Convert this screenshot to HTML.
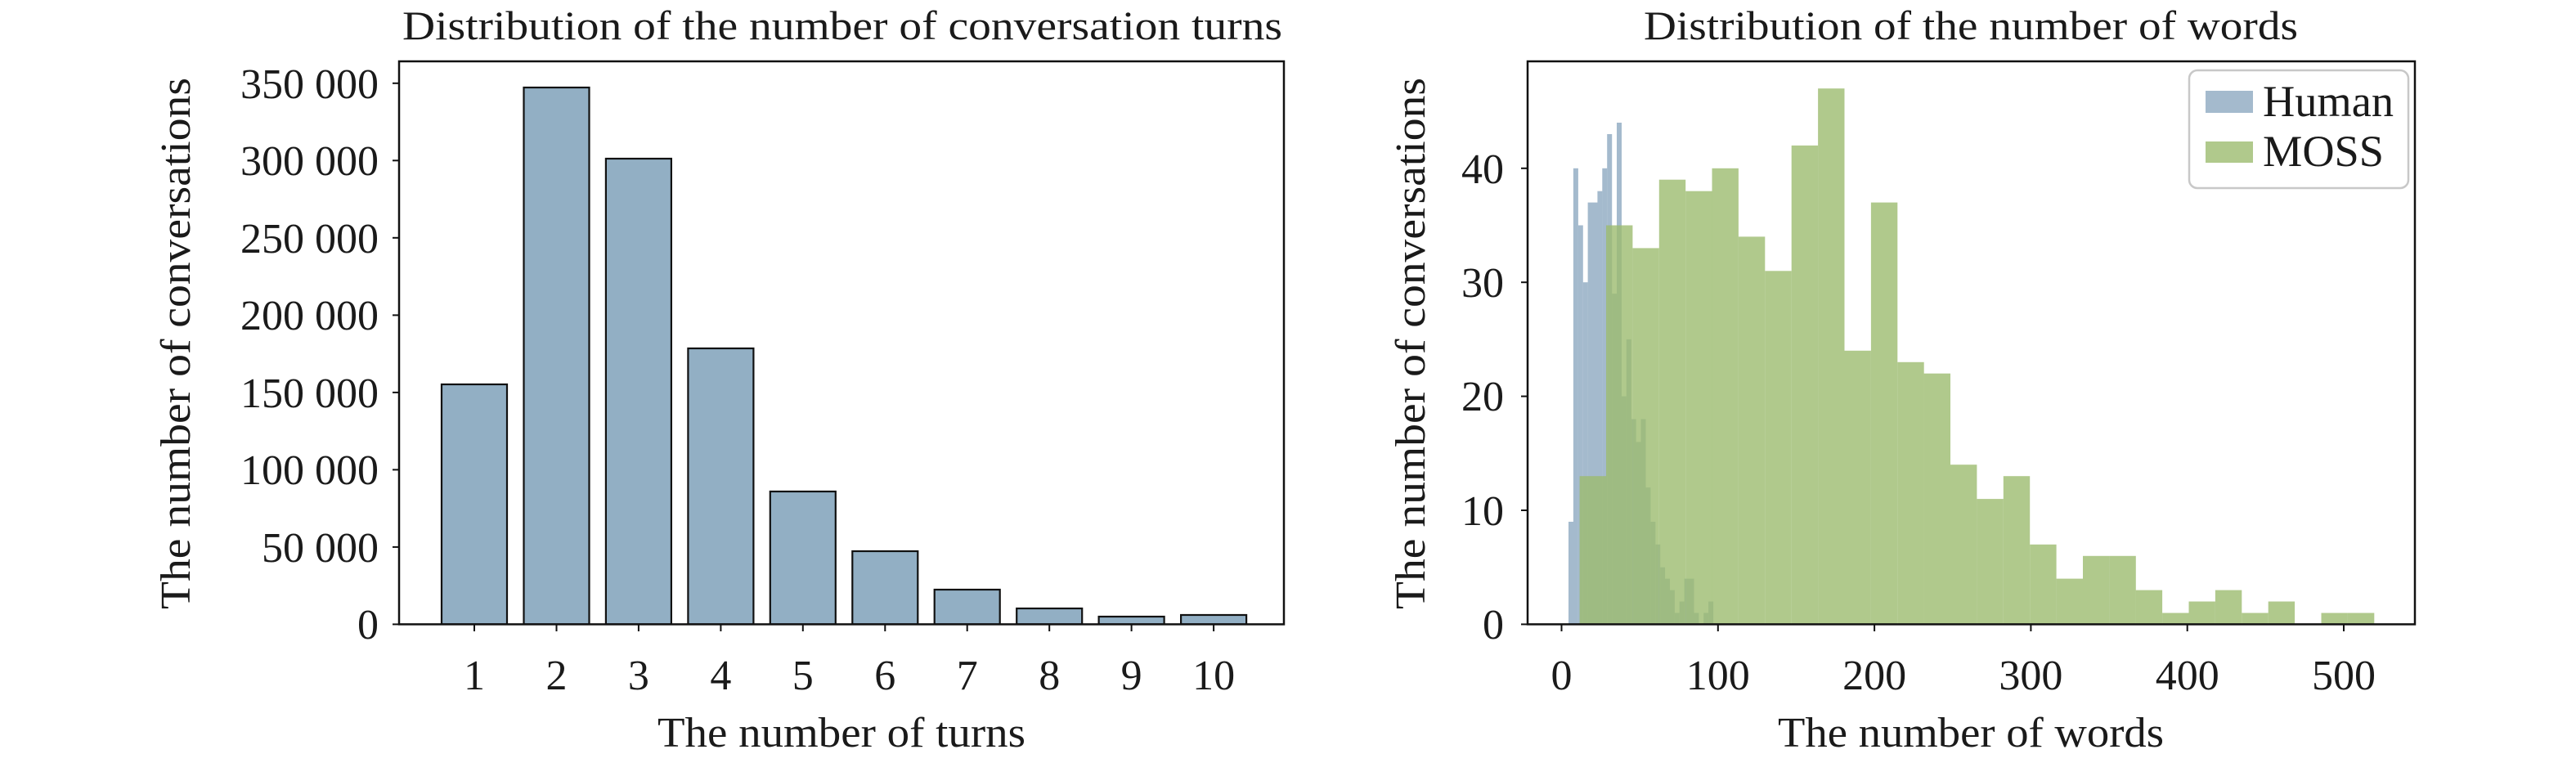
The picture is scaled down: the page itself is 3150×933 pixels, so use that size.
<!DOCTYPE html>
<html><head><meta charset="utf-8"><style>
html,body{margin:0;padding:0;background:#fff;}
svg{display:block;}
text{font-family:"Liberation Serif","Times New Roman",serif;fill:#1a1a1a;}
</style></head><body>
<svg width="3150" height="933" viewBox="0 0 3150 933" xmlns="http://www.w3.org/2000/svg">
<!-- LEFT PANEL -->
<text x="1030" y="48" font-size="50" text-anchor="middle" textLength="1076" lengthAdjust="spacingAndGlyphs">Distribution of  the number of conversation turns</text>
<g fill="#92afc4" stroke="#111" stroke-width="2.2">
<rect x="540" y="470" width="80" height="293.4"/>
<rect x="640.5" y="107" width="80" height="656.4"/>
<rect x="740.9" y="194" width="80" height="569.4"/>
<rect x="841.4" y="426" width="80" height="337.4"/>
<rect x="941.8" y="601" width="80" height="162.4"/>
<rect x="1042.3" y="674" width="80" height="89.4"/>
<rect x="1142.7" y="721" width="80" height="42.4"/>
<rect x="1243.2" y="744" width="80" height="19.4"/>
<rect x="1343.6" y="754" width="80" height="9.4"/>
<rect x="1444.1" y="752" width="80" height="11.4"/>
</g>
<rect x="488" y="75" width="1082" height="688.4" fill="none" stroke="#111" stroke-width="2.5"/>
<g stroke="#111" stroke-width="2">
<line x1="480" y1="763.4" x2="488" y2="763.4"/><line x1="480" y1="668.9" x2="488" y2="668.9"/>
<line x1="480" y1="574.4" x2="488" y2="574.4"/><line x1="480" y1="479.9" x2="488" y2="479.9"/>
<line x1="480" y1="385.4" x2="488" y2="385.4"/><line x1="480" y1="290.8" x2="488" y2="290.8"/>
<line x1="480" y1="196.3" x2="488" y2="196.3"/><line x1="480" y1="101.8" x2="488" y2="101.8"/>
<line x1="580" y1="763" x2="580" y2="772"/><line x1="680.5" y1="763" x2="680.5" y2="772"/>
<line x1="780.9" y1="763" x2="780.9" y2="772"/><line x1="881.4" y1="763" x2="881.4" y2="772"/>
<line x1="981.8" y1="763" x2="981.8" y2="772"/><line x1="1082.3" y1="763" x2="1082.3" y2="772"/>
<line x1="1182.7" y1="763" x2="1182.7" y2="772"/><line x1="1283.2" y1="763" x2="1283.2" y2="772"/>
<line x1="1383.6" y1="763" x2="1383.6" y2="772"/><line x1="1484.1" y1="763" x2="1484.1" y2="772"/>
</g>
<g font-size="52" text-anchor="end">
<text x="463" y="781">0</text><text x="463" y="687">50 000</text><text x="463" y="592">100 000</text>
<text x="463" y="498">150 000</text><text x="463" y="403">200 000</text><text x="463" y="309">250 000</text>
<text x="463" y="214">300 000</text><text x="463" y="120">350 000</text>
</g>
<g font-size="52" text-anchor="middle">
<text x="580" y="843">1</text><text x="680.5" y="843">2</text><text x="780.9" y="843">3</text>
<text x="881.4" y="843">4</text><text x="981.8" y="843">5</text><text x="1082.3" y="843">6</text>
<text x="1182.7" y="843">7</text><text x="1283.2" y="843">8</text><text x="1383.6" y="843">9</text>
<text x="1484.1" y="843">10</text>
</g>
<text x="1029" y="913" font-size="52" text-anchor="middle" textLength="450" lengthAdjust="spacingAndGlyphs">The number of turns</text>
<text transform="translate(232,420) rotate(-90)" font-size="52" text-anchor="middle" textLength="650" lengthAdjust="spacingAndGlyphs">The number of conversations</text>

<!-- RIGHT PANEL -->
<text x="2410" y="48" font-size="50" text-anchor="middle" textLength="800" lengthAdjust="spacingAndGlyphs">Distribution of the number of words</text>
<g fill="#a4bacd">
<rect x="1918" y="638" width="6" height="125.4"/>
<rect x="1923.9" y="205.8" width="6" height="557.6"/>
<rect x="1929.8" y="275.5" width="6" height="487.9"/>
<rect x="1935.7" y="345.2" width="6" height="418.2"/>
<rect x="1941.6" y="247.6" width="6" height="515.8"/>
<rect x="1947.5" y="247.6" width="6" height="515.8"/>
<rect x="1953.4" y="233.7" width="6" height="529.7"/>
<rect x="1959.3" y="205.8" width="6" height="557.6"/>
<rect x="1965.2" y="164" width="6" height="599.4"/>
<rect x="1971.1" y="359.1" width="6" height="404.3"/>
<rect x="1977" y="150" width="6" height="613.4"/>
<rect x="1982.9" y="484.6" width="6" height="278.8"/>
<rect x="1988.8" y="414.9" width="6" height="348.5"/>
<rect x="1994.7" y="512.5" width="6" height="250.9"/>
<rect x="2000.6" y="540.4" width="6" height="223"/>
<rect x="2006.5" y="512.5" width="6" height="250.9"/>
<rect x="2012.4" y="596.1" width="6" height="167.3"/>
<rect x="2018.3" y="638" width="6" height="125.4"/>
<rect x="2024.2" y="665.8" width="6" height="97.6"/>
<rect x="2030.1" y="693.7" width="6" height="69.7"/>
<rect x="2036" y="707.6" width="6" height="55.8"/>
<rect x="2041.9" y="721.6" width="6" height="41.8"/>
<rect x="2047.8" y="749.5" width="6" height="13.9"/>
<rect x="2053.7" y="735.5" width="6" height="27.9"/>
<rect x="2059.6" y="707.6" width="6" height="55.8"/>
<rect x="2065.5" y="707.6" width="6" height="55.8"/>
<rect x="2071.4" y="749.5" width="6" height="13.9"/>
<rect x="2083.2" y="749.5" width="6" height="13.9"/>
<rect x="2089.1" y="735.5" width="6" height="27.9"/>
</g>
<g fill="#9cbb6f" fill-opacity="0.8">
<rect x="1931.6" y="582.2" width="32.4" height="181.2"/>
<rect x="1964" y="275.5" width="32.4" height="487.9"/>
<rect x="1996.4" y="303.4" width="32.4" height="460"/>
<rect x="2028.8" y="219.7" width="32.4" height="543.7"/>
<rect x="2061.2" y="233.7" width="32.4" height="529.7"/>
<rect x="2093.5" y="205.8" width="32.4" height="557.6"/>
<rect x="2125.9" y="289.4" width="32.4" height="474"/>
<rect x="2158.3" y="331.3" width="32.4" height="432.1"/>
<rect x="2190.7" y="177.9" width="32.4" height="585.5"/>
<rect x="2223.1" y="108.2" width="32.4" height="655.2"/>
<rect x="2255.5" y="428.8" width="32.4" height="334.6"/>
<rect x="2287.9" y="247.6" width="32.4" height="515.8"/>
<rect x="2320.3" y="442.8" width="32.4" height="320.6"/>
<rect x="2352.6" y="456.7" width="32.4" height="306.7"/>
<rect x="2385" y="568.2" width="32.4" height="195.2"/>
<rect x="2417.4" y="610.1" width="32.4" height="153.3"/>
<rect x="2449.8" y="582.2" width="32.4" height="181.2"/>
<rect x="2482.2" y="665.8" width="32.4" height="97.6"/>
<rect x="2514.6" y="707.6" width="32.4" height="55.8"/>
<rect x="2547" y="679.8" width="32.4" height="83.6"/>
<rect x="2579.4" y="679.8" width="32.4" height="83.6"/>
<rect x="2611.7" y="721.6" width="32.4" height="41.8"/>
<rect x="2644.1" y="749.5" width="32.4" height="13.9"/>
<rect x="2676.5" y="735.5" width="32.4" height="27.9"/>
<rect x="2708.9" y="721.6" width="32.4" height="41.8"/>
<rect x="2741.3" y="749.5" width="32.4" height="13.9"/>
<rect x="2773.7" y="735.5" width="32.4" height="27.9"/>
<rect x="2838.5" y="749.5" width="32.4" height="13.9"/>
<rect x="2870.9" y="749.5" width="32.4" height="13.9"/>
</g>
<rect x="1868" y="75" width="1085" height="688.4" fill="none" stroke="#111" stroke-width="2.5"/>
<g stroke="#111" stroke-width="2">
<line x1="1860" y1="763.4" x2="1868" y2="763.4"/><line x1="1860" y1="624" x2="1868" y2="624"/>
<line x1="1860" y1="484.6" x2="1868" y2="484.6"/><line x1="1860" y1="345.2" x2="1868" y2="345.2"/>
<line x1="1860" y1="205.8" x2="1868" y2="205.8"/>
<line x1="1909.5" y1="763" x2="1909.5" y2="772"/><line x1="2100.8" y1="763" x2="2100.8" y2="772"/>
<line x1="2292.1" y1="763" x2="2292.1" y2="772"/><line x1="2483.4" y1="763" x2="2483.4" y2="772"/>
<line x1="2674.7" y1="763" x2="2674.7" y2="772"/><line x1="2866" y1="763" x2="2866" y2="772"/>
</g>
<g font-size="52" text-anchor="end">
<text x="1839" y="781">0</text><text x="1839" y="642">10</text><text x="1839" y="502">20</text>
<text x="1839" y="363">30</text><text x="1839" y="224">40</text>
</g>
<g font-size="52" text-anchor="middle">
<text x="1909.5" y="843">0</text><text x="2100.8" y="843">100</text><text x="2292.1" y="843">200</text>
<text x="2483.4" y="843">300</text><text x="2674.7" y="843">400</text><text x="2866" y="843">500</text>
</g>
<text x="2410" y="913" font-size="52" text-anchor="middle" textLength="472" lengthAdjust="spacingAndGlyphs">The number of words</text>
<text transform="translate(1742,420) rotate(-90)" font-size="52" text-anchor="middle" textLength="650" lengthAdjust="spacingAndGlyphs">The number of conversations</text>
<rect x="2677" y="86" width="268" height="144" rx="10" fill="#fff" fill-opacity="0.85" stroke="#c8c8c8" stroke-width="2.5"/>
<rect x="2697" y="111" width="58" height="27" fill="#a4bacd"/>
<rect x="2697" y="173" width="58" height="26" fill="#b0c98c"/>
<text x="2767" y="142" font-size="54" textLength="160" lengthAdjust="spacingAndGlyphs">Human</text>
<text x="2767" y="203" font-size="54" textLength="148" lengthAdjust="spacingAndGlyphs">MOSS</text>
</svg>
</body></html>
